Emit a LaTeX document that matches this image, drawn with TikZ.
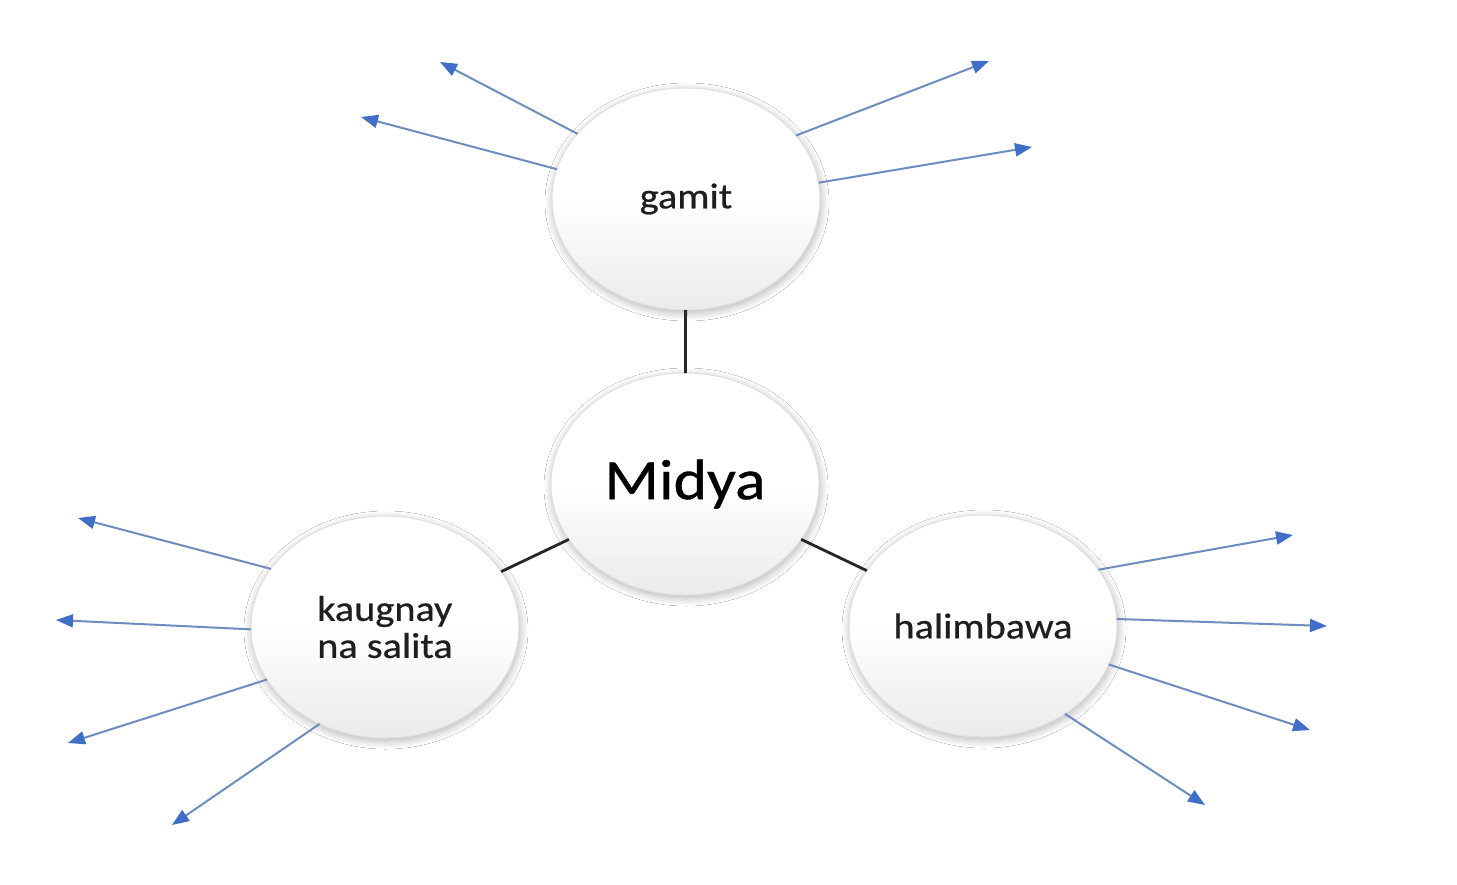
\documentclass[tikz,border=0pt]{standalone}
\usepackage{fontspec}
\setmainfont{Carlito}[FakeStretch=1.12,FakeBold=0.6]
\usetikzlibrary{arrows.meta,shapes.geometric,shadows.blur}
\definecolor{arrowline}{HTML}{6F8CBF}
\definecolor{arrowtip}{HTML}{3F6FC6}
\definecolor{conn}{HTML}{262626}
\definecolor{txt}{HTML}{1E1E1E}
\tikzset{
  bubble/.style={ellipse, minimum width=268pt, minimum height=222pt, inner sep=0pt, outer sep=0pt,
    draw=gray!25, line width=1pt, top color=white, bottom color=gray!16, middle color=white,
    blur shadow={shadow xshift=1pt, shadow yshift=-3pt, shadow blur radius=8pt, shadow blur steps=16, shadow opacity=30},
    text=txt, font=\fontsize{36}{37}\selectfont, align=left},
  link/.style={draw=conn, line width=2.8pt},
  ray/.style={draw=arrowline, line width=2pt, -{Triangle[length=17pt,width=13pt,color=arrowtip]}}
}
\begin{document}
\begin{tikzpicture}[x=1pt,y=-1pt]
\useasboundingbox (0,0) rectangle (1457,884);
\fill[white] (0,0) rectangle (1457,884);
\coordinate (g1) at (440,62);
\coordinate (g2) at (361,117);
\coordinate (g3) at (989,61);
\coordinate (g4) at (1032,147);
\coordinate (k1) at (78,518);
\coordinate (k2) at (56,620);
\coordinate (k3) at (68,743);
\coordinate (k4) at (172,825);
\coordinate (h1) at (1293,535);
\coordinate (h2) at (1327,626);
\coordinate (h3) at (1310,730);
\coordinate (h4) at (1205,805);

\node[bubble] (gamit) at (686,199) {gamit};
\node[bubble, font=\fontsize{57}{60}\selectfont, text=black] (midya) at (685,484) {Midya};
\node[bubble] (kaug) at (385,627) {kaugnay\\na salita};
\node[bubble] (hal) at (983,626) {halimbawa};

\draw[link] (gamit) -- (midya);
\draw[link] (midya) -- (kaug);
\draw[link] (midya) -- (hal);

\draw[ray] (gamit.149.6) -- (g1);
\draw[ray] (gamit.167) -- (g2);
\draw[ray] (gamit.30.2) -- (g3);
\draw[ray] (gamit.7.7) -- (g4);

\draw[ray] (kaug.153.2) -- (k1);
\draw[ray] (kaug.181) -- (k2);
\draw[ray] (kaug.204.5) -- (k3);
\draw[ray] (kaug.236.6) -- (k4);

\draw[ray] (hal.26.6) -- (h1);
\draw[ray] (hal.3.9) -- (h2);
\draw[ray] (hal.-17.5) -- (h3);
\draw[ray] (hal.-47.7) -- (h4);
\end{tikzpicture}
\end{document}
